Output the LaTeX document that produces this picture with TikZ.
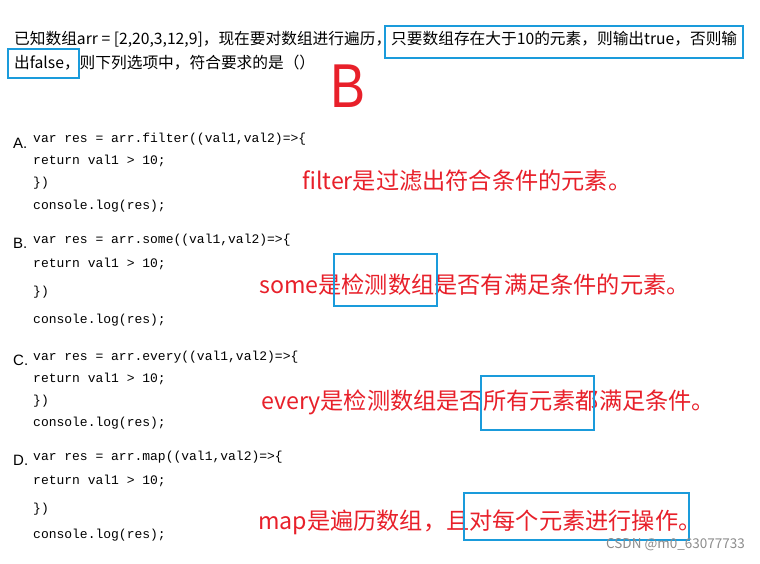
\documentclass[tikz,border=0pt]{standalone}
\usepackage{fontspec}
\setmainfont{Liberation Sans}
\setmonofont{Liberation Mono}
\newfontfamily\cjk{Noto Sans CJK SC}
\definecolor{annred}{HTML}{E8202A}
\definecolor{boxblue}{HTML}{1A9BDB}
\begin{document}
\begin{tikzpicture}[x=1pt,y=-1pt,
  txt/.style={anchor=west,inner sep=0pt,font=\cjk\fontsize{15.7}{17}\selectfont},
  code/.style={anchor=west,inner sep=0pt,font=\ttfamily\fontsize{13}{15}\selectfont},
  lab/.style={anchor=west,inner sep=0pt,font=\fontsize{15}{16}\selectfont},
  red/.style={anchor=west,inner sep=0pt,text=annred,font=\cjk\fontsize{23.2}{24}\selectfont},
  hbox/.style={draw=boxblue,line width=1.6pt}]
\useasboundingbox[fill=white] (0,0) rectangle (760,563);
\node[txt] (q1) at (14,39) {已知数组arr = [2,20,3,12,9]，现在要对数组进行遍历，只要数组存在大于10的元素，则输出true，否则输};
\node[txt] (q2) at (14,63) {出false，则下列选项中，符合要求的是（）};
\draw[hbox] (385,26) rectangle (743,58);
\draw[hbox] (8,49) rectangle (79,78);
\node[inner sep=0pt,text=annred,font=\fontsize{62}{62}\selectfont,xscale=0.85] (bb) at (348,86) {B};
% A
\node[lab] (la) at (13,143) {A.};
\node[code] (a1) at (33,139) {var res = arr.filter((val1,val2)=>\{};
\node[code] (a2) at (33,161) {return val1 > 10;};
\node[code] (a3) at (33,183) {\})};
\node[code] (a4) at (33,206) {console.log(res);};
\node[red] (ra) at (302,181) {filter是过滤出符合条件的元素。};
% B
\node[lab] (lb) at (13,243) {B.};
\node[code] (b1) at (33,240) {var res = arr.some((val1,val2)=>\{};
\node[code] (b2) at (33,264) {return val1 > 10;};
\node[code] (b3) at (33,292) {\})};
\node[code] (b4) at (33,320) {console.log(res);};
\node[red] (rb) at (259,285) {some是检测数组是否有满足条件的元素。};
\draw[hbox] (334,254) rectangle (437,306);
% C
\node[lab] (lc) at (13,360) {C.};
\node[code] (c1) at (33,357) {var res = arr.every((val1,val2)=>\{};
\node[code] (c2) at (33,379) {return val1 > 10;};
\node[code] (c3) at (33,401) {\})};
\node[code] (c4) at (33,423) {console.log(res);};
\node[red] (rc) at (261,402) {every是检测数组是否所有元素都满足条件。};
\draw[hbox] (481,376) rectangle (594,430);
% D
\node[lab] (ld) at (13,460) {D.};
\node[code] (d1) at (33,457) {var res = arr.map((val1,val2)=>\{};
\node[code] (d2) at (33,481) {return val1 > 10;};
\node[code] (d3) at (33,509) {\})};
\node[code] (d4) at (33,535) {console.log(res);};
\node[red] (rd) at (258,522) {map是遍历数组，且对每个元素进行操作。};
\draw[hbox] (464,493) rectangle (689,540);
\node[anchor=east,inner sep=0pt,text=gray!90,font=\cjk\fontsize{13.5}{14}\selectfont] (wm) at (745,545) {CSDN @m0\_63077733};
\end{tikzpicture}
\end{document}
